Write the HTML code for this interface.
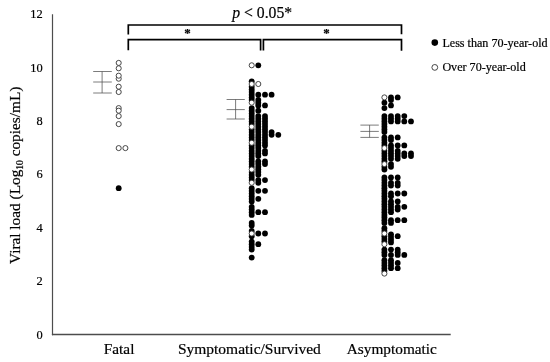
<!DOCTYPE html>
<html><head><meta charset="utf-8"><title>Viral load</title>
<style>
html,body{margin:0;padding:0;background:#fff;}
body{width:550px;height:362px;overflow:hidden;}
svg{display:block;}
text{font-family:"Liberation Serif","Times New Roman",serif;fill:#000;stroke:#000;stroke-width:0.2px;}
</style></head><body>
<svg width="550" height="362" viewBox="0 0 550 362">
<rect width="550" height="362" fill="#fff"/>
<g stroke="#4d4d4d" stroke-width="1.2" fill="none">
<line x1="52.5" y1="14.2" x2="52.5" y2="335.2"/>
<line x1="51.9" y1="334.5" x2="450.7" y2="334.5" stroke-width="1.4"/>
</g>
<g font-size="12.4"><text x="42.6" y="18.2" text-anchor="end">12</text><text x="42.6" y="71.6" text-anchor="end">10</text><text x="42.6" y="125.0" text-anchor="end">8</text><text x="42.6" y="178.4" text-anchor="end">6</text><text x="42.6" y="231.8" text-anchor="end">4</text><text x="42.6" y="285.2" text-anchor="end">2</text><text x="42.6" y="338.6" text-anchor="end">0</text></g>
<text font-size="15.32" transform="translate(20.3,264.0) rotate(-90)">Viral load (Log<tspan font-size="9.5" dy="2.5">10</tspan><tspan dy="-2.5"> copies/mL)</tspan></text>
<g font-size="15.3">
<text x="103.8" y="353.8">Fatal</text>
<text x="177.9" y="353.8" font-size="15.5">Symptomatic/Survived</text>
<text x="346.8" y="353.8">Asymptomatic</text>
<text x="232.3" y="17.6" font-size="15.7"><tspan font-style="italic">p</tspan> &lt; 0.05*</text>
</g>
<g stroke="#000" stroke-width="1.7" fill="none" stroke-linecap="butt">
<path d="M128.3 34.6V25H401.5V34.2"/>
<path d="M128.3 50.2V39.7H260.6V50.6"/>
<path d="M263.4 50.6V39.7H401.5V50.8"/>
</g>
<g font-size="13" font-weight="bold"><text x="187.4" y="36.9" text-anchor="middle">*</text><text x="326.4" y="37.2" text-anchor="middle">*</text></g>
<g>
<circle cx="434.8" cy="42.6" r="3.3" fill="#000"/>
<circle cx="434.8" cy="67.4" r="2.9" fill="#fff" stroke="#333" stroke-width="0.9"/>
<text x="442.4" y="46.6" font-size="12.1">Less than 70-year-old</text>
<text x="442.4" y="71.4" font-size="12.1">Over 70-year-old</text>
</g>
<g stroke="#505050" stroke-width="0.75">
<line x1="93.2" y1="71.5" x2="111.8" y2="71.5"/><line x1="93.2" y1="82" x2="111.8" y2="82"/><line x1="93.2" y1="93" x2="111.8" y2="93"/><line x1="102.1" y1="71.5" x2="102.1" y2="93"/>
<line x1="226.6" y1="99.5" x2="244.8" y2="99.5"/><line x1="226.6" y1="109.6" x2="244.8" y2="109.6"/><line x1="226.6" y1="119" x2="244.8" y2="119"/><line x1="235.6" y1="99.5" x2="235.6" y2="119"/>
<line x1="360.4" y1="125.1" x2="378.8" y2="125.1"/><line x1="360.4" y1="131.4" x2="378.8" y2="131.4"/><line x1="360.4" y1="137.4" x2="378.8" y2="137.4"/><line x1="369.6" y1="125.1" x2="369.6" y2="137.4"/>
</g>
<g><circle cx="118.7" cy="62.9" r="2.55" fill="#fff" stroke="#333" stroke-width="0.9"/><circle cx="118.7" cy="68.3" r="2.55" fill="#fff" stroke="#333" stroke-width="0.9"/><circle cx="118.7" cy="78.7" r="2.55" fill="#fff" stroke="#333" stroke-width="0.9"/><circle cx="118.7" cy="75.7" r="2.55" fill="#fff" stroke="#333" stroke-width="0.9"/><circle cx="118.7" cy="86.7" r="2.55" fill="#fff" stroke="#333" stroke-width="0.9"/><circle cx="118.7" cy="92.0" r="2.55" fill="#fff" stroke="#333" stroke-width="0.9"/><circle cx="118.7" cy="108.1" r="2.55" fill="#fff" stroke="#333" stroke-width="0.9"/><circle cx="118.7" cy="110.7" r="2.55" fill="#fff" stroke="#333" stroke-width="0.9"/><circle cx="118.7" cy="116.1" r="2.55" fill="#fff" stroke="#333" stroke-width="0.9"/><circle cx="118.7" cy="124.1" r="2.55" fill="#fff" stroke="#333" stroke-width="0.9"/><circle cx="118.7" cy="148.1" r="2.55" fill="#fff" stroke="#333" stroke-width="0.9"/><circle cx="125.4" cy="148.1" r="2.55" fill="#fff" stroke="#333" stroke-width="0.9"/><circle cx="118.7" cy="188.2" r="2.9" fill="#000"/></g>
<g><circle cx="251.7" cy="81.3" r="2.9" fill="#000"/><circle cx="251.7" cy="86.7" r="2.9" fill="#000"/><circle cx="251.7" cy="89.4" r="2.9" fill="#000"/><circle cx="251.7" cy="92.0" r="2.9" fill="#000"/><circle cx="251.7" cy="94.7" r="2.9" fill="#000"/><circle cx="251.7" cy="97.4" r="2.9" fill="#000"/><circle cx="251.7" cy="100.0" r="2.9" fill="#000"/><circle cx="251.7" cy="108.1" r="2.9" fill="#000"/><circle cx="251.7" cy="110.7" r="2.9" fill="#000"/><circle cx="251.7" cy="113.4" r="2.9" fill="#000"/><circle cx="251.7" cy="116.1" r="2.9" fill="#000"/><circle cx="251.7" cy="118.7" r="2.9" fill="#000"/><circle cx="251.7" cy="121.4" r="2.9" fill="#000"/><circle cx="251.7" cy="124.1" r="2.9" fill="#000"/><circle cx="251.7" cy="129.4" r="2.9" fill="#000"/><circle cx="251.7" cy="132.1" r="2.9" fill="#000"/><circle cx="251.7" cy="134.8" r="2.9" fill="#000"/><circle cx="251.7" cy="137.4" r="2.9" fill="#000"/><circle cx="251.7" cy="140.1" r="2.9" fill="#000"/><circle cx="251.7" cy="145.4" r="2.9" fill="#000"/><circle cx="251.7" cy="148.1" r="2.9" fill="#000"/><circle cx="251.7" cy="150.8" r="2.9" fill="#000"/><circle cx="251.7" cy="153.4" r="2.9" fill="#000"/><circle cx="251.7" cy="156.1" r="2.9" fill="#000"/><circle cx="251.7" cy="158.8" r="2.9" fill="#000"/><circle cx="251.7" cy="161.5" r="2.9" fill="#000"/><circle cx="251.7" cy="164.1" r="2.9" fill="#000"/><circle cx="251.7" cy="166.8" r="2.9" fill="#000"/><circle cx="251.7" cy="172.1" r="2.9" fill="#000"/><circle cx="251.7" cy="174.8" r="2.9" fill="#000"/><circle cx="251.7" cy="177.5" r="2.9" fill="#000"/><circle cx="251.7" cy="180.1" r="2.9" fill="#000"/><circle cx="251.7" cy="188.2" r="2.9" fill="#000"/><circle cx="251.7" cy="190.8" r="2.9" fill="#000"/><circle cx="251.7" cy="193.5" r="2.9" fill="#000"/><circle cx="251.7" cy="196.2" r="2.9" fill="#000"/><circle cx="251.7" cy="198.8" r="2.9" fill="#000"/><circle cx="251.7" cy="201.5" r="2.9" fill="#000"/><circle cx="251.7" cy="206.8" r="2.9" fill="#000"/><circle cx="251.7" cy="209.5" r="2.9" fill="#000"/><circle cx="251.7" cy="212.2" r="2.9" fill="#000"/><circle cx="251.7" cy="214.9" r="2.9" fill="#000"/><circle cx="251.7" cy="222.9" r="2.9" fill="#000"/><circle cx="251.7" cy="225.5" r="2.9" fill="#000"/><circle cx="251.7" cy="230.9" r="2.9" fill="#000"/><circle cx="251.7" cy="236.2" r="2.9" fill="#000"/><circle cx="251.7" cy="241.6" r="2.9" fill="#000"/><circle cx="251.7" cy="244.2" r="2.9" fill="#000"/><circle cx="251.7" cy="246.9" r="2.9" fill="#000"/><circle cx="251.7" cy="249.6" r="2.9" fill="#000"/><circle cx="251.7" cy="257.6" r="2.9" fill="#000"/><circle cx="258.3" cy="65.3" r="2.9" fill="#000"/><circle cx="258.3" cy="94.7" r="2.9" fill="#000"/><circle cx="258.3" cy="100.0" r="2.9" fill="#000"/><circle cx="258.3" cy="102.7" r="2.9" fill="#000"/><circle cx="258.3" cy="105.4" r="2.9" fill="#000"/><circle cx="258.3" cy="110.7" r="2.9" fill="#000"/><circle cx="258.3" cy="116.1" r="2.9" fill="#000"/><circle cx="258.3" cy="118.7" r="2.9" fill="#000"/><circle cx="258.3" cy="121.4" r="2.9" fill="#000"/><circle cx="258.3" cy="124.1" r="2.9" fill="#000"/><circle cx="258.3" cy="126.7" r="2.9" fill="#000"/><circle cx="258.3" cy="129.4" r="2.9" fill="#000"/><circle cx="258.3" cy="132.1" r="2.9" fill="#000"/><circle cx="258.3" cy="134.8" r="2.9" fill="#000"/><circle cx="258.3" cy="137.4" r="2.9" fill="#000"/><circle cx="258.3" cy="140.1" r="2.9" fill="#000"/><circle cx="258.3" cy="142.8" r="2.9" fill="#000"/><circle cx="258.3" cy="145.4" r="2.9" fill="#000"/><circle cx="258.3" cy="148.1" r="2.9" fill="#000"/><circle cx="258.3" cy="150.8" r="2.9" fill="#000"/><circle cx="258.3" cy="153.4" r="2.9" fill="#000"/><circle cx="258.3" cy="156.1" r="2.9" fill="#000"/><circle cx="258.3" cy="161.5" r="2.9" fill="#000"/><circle cx="258.3" cy="164.1" r="2.9" fill="#000"/><circle cx="258.3" cy="166.8" r="2.9" fill="#000"/><circle cx="258.3" cy="169.5" r="2.9" fill="#000"/><circle cx="258.3" cy="172.1" r="2.9" fill="#000"/><circle cx="258.3" cy="174.8" r="2.9" fill="#000"/><circle cx="258.3" cy="180.1" r="2.9" fill="#000"/><circle cx="258.3" cy="182.8" r="2.9" fill="#000"/><circle cx="258.3" cy="190.8" r="2.9" fill="#000"/><circle cx="258.3" cy="198.8" r="2.9" fill="#000"/><circle cx="258.3" cy="212.2" r="2.9" fill="#000"/><circle cx="258.3" cy="233.5" r="2.9" fill="#000"/><circle cx="258.3" cy="244.2" r="2.9" fill="#000"/><circle cx="265.0" cy="94.7" r="2.9" fill="#000"/><circle cx="265.0" cy="105.4" r="2.9" fill="#000"/><circle cx="265.0" cy="116.1" r="2.9" fill="#000"/><circle cx="265.0" cy="118.7" r="2.9" fill="#000"/><circle cx="265.0" cy="121.4" r="2.9" fill="#000"/><circle cx="265.0" cy="124.1" r="2.9" fill="#000"/><circle cx="265.0" cy="126.7" r="2.9" fill="#000"/><circle cx="265.0" cy="129.4" r="2.9" fill="#000"/><circle cx="265.0" cy="132.1" r="2.9" fill="#000"/><circle cx="265.0" cy="134.8" r="2.9" fill="#000"/><circle cx="265.0" cy="137.4" r="2.9" fill="#000"/><circle cx="265.0" cy="140.1" r="2.9" fill="#000"/><circle cx="265.0" cy="142.8" r="2.9" fill="#000"/><circle cx="265.0" cy="145.4" r="2.9" fill="#000"/><circle cx="265.0" cy="150.8" r="2.9" fill="#000"/><circle cx="265.0" cy="153.4" r="2.9" fill="#000"/><circle cx="265.0" cy="161.5" r="2.9" fill="#000"/><circle cx="265.0" cy="164.1" r="2.9" fill="#000"/><circle cx="265.0" cy="180.1" r="2.9" fill="#000"/><circle cx="265.0" cy="190.8" r="2.9" fill="#000"/><circle cx="265.0" cy="212.2" r="2.9" fill="#000"/><circle cx="265.0" cy="233.5" r="2.9" fill="#000"/><circle cx="271.6" cy="94.7" r="2.9" fill="#000"/><circle cx="271.6" cy="132.1" r="2.9" fill="#000"/><circle cx="271.6" cy="134.8" r="2.9" fill="#000"/><circle cx="278.3" cy="134.8" r="2.9" fill="#000"/><circle cx="251.7" cy="65.3" r="2.55" fill="#fff" stroke="#333" stroke-width="0.9"/><circle cx="251.7" cy="84.0" r="2.55" fill="#fff" stroke="#333" stroke-width="0.9"/><circle cx="251.7" cy="102.7" r="2.55" fill="#fff" stroke="#333" stroke-width="0.9"/><circle cx="251.7" cy="126.7" r="2.55" fill="#fff" stroke="#333" stroke-width="0.9"/><circle cx="251.7" cy="142.8" r="2.55" fill="#fff" stroke="#333" stroke-width="0.9"/><circle cx="251.7" cy="169.5" r="2.55" fill="#fff" stroke="#333" stroke-width="0.9"/><circle cx="251.7" cy="182.8" r="2.55" fill="#fff" stroke="#333" stroke-width="0.9"/><circle cx="251.7" cy="233.5" r="2.55" fill="#fff" stroke="#333" stroke-width="0.9"/><circle cx="258.3" cy="84.0" r="2.55" fill="#fff" stroke="#333" stroke-width="0.9"/></g>
<g><circle cx="384.4" cy="102.7" r="2.9" fill="#000"/><circle cx="384.4" cy="108.1" r="2.9" fill="#000"/><circle cx="384.4" cy="116.1" r="2.9" fill="#000"/><circle cx="384.4" cy="118.7" r="2.9" fill="#000"/><circle cx="384.4" cy="121.4" r="2.9" fill="#000"/><circle cx="384.4" cy="124.1" r="2.9" fill="#000"/><circle cx="384.4" cy="126.7" r="2.9" fill="#000"/><circle cx="384.4" cy="129.4" r="2.9" fill="#000"/><circle cx="384.4" cy="132.1" r="2.9" fill="#000"/><circle cx="384.4" cy="137.4" r="2.9" fill="#000"/><circle cx="384.4" cy="140.1" r="2.9" fill="#000"/><circle cx="384.4" cy="142.8" r="2.9" fill="#000"/><circle cx="384.4" cy="145.4" r="2.9" fill="#000"/><circle cx="384.4" cy="150.8" r="2.9" fill="#000"/><circle cx="384.4" cy="153.4" r="2.9" fill="#000"/><circle cx="384.4" cy="156.1" r="2.9" fill="#000"/><circle cx="384.4" cy="158.8" r="2.9" fill="#000"/><circle cx="384.4" cy="161.5" r="2.9" fill="#000"/><circle cx="384.4" cy="166.8" r="2.9" fill="#000"/><circle cx="384.4" cy="169.5" r="2.9" fill="#000"/><circle cx="384.4" cy="177.5" r="2.9" fill="#000"/><circle cx="384.4" cy="180.1" r="2.9" fill="#000"/><circle cx="384.4" cy="182.8" r="2.9" fill="#000"/><circle cx="384.4" cy="185.5" r="2.9" fill="#000"/><circle cx="384.4" cy="188.2" r="2.9" fill="#000"/><circle cx="384.4" cy="190.8" r="2.9" fill="#000"/><circle cx="384.4" cy="193.5" r="2.9" fill="#000"/><circle cx="384.4" cy="196.2" r="2.9" fill="#000"/><circle cx="384.4" cy="198.8" r="2.9" fill="#000"/><circle cx="384.4" cy="201.5" r="2.9" fill="#000"/><circle cx="384.4" cy="204.2" r="2.9" fill="#000"/><circle cx="384.4" cy="206.8" r="2.9" fill="#000"/><circle cx="384.4" cy="209.5" r="2.9" fill="#000"/><circle cx="384.4" cy="212.2" r="2.9" fill="#000"/><circle cx="384.4" cy="214.9" r="2.9" fill="#000"/><circle cx="384.4" cy="217.5" r="2.9" fill="#000"/><circle cx="384.4" cy="220.2" r="2.9" fill="#000"/><circle cx="384.4" cy="222.9" r="2.9" fill="#000"/><circle cx="384.4" cy="228.2" r="2.9" fill="#000"/><circle cx="384.4" cy="230.9" r="2.9" fill="#000"/><circle cx="384.4" cy="236.2" r="2.9" fill="#000"/><circle cx="384.4" cy="238.9" r="2.9" fill="#000"/><circle cx="384.4" cy="241.6" r="2.9" fill="#000"/><circle cx="384.4" cy="249.6" r="2.9" fill="#000"/><circle cx="384.4" cy="252.2" r="2.9" fill="#000"/><circle cx="384.4" cy="254.9" r="2.9" fill="#000"/><circle cx="384.4" cy="260.2" r="2.9" fill="#000"/><circle cx="384.4" cy="262.9" r="2.9" fill="#000"/><circle cx="384.4" cy="265.6" r="2.9" fill="#000"/><circle cx="384.4" cy="268.2" r="2.9" fill="#000"/><circle cx="384.4" cy="270.9" r="2.9" fill="#000"/><circle cx="391.0" cy="97.4" r="2.9" fill="#000"/><circle cx="391.0" cy="100.0" r="2.9" fill="#000"/><circle cx="391.0" cy="105.4" r="2.9" fill="#000"/><circle cx="391.0" cy="116.1" r="2.9" fill="#000"/><circle cx="391.0" cy="118.7" r="2.9" fill="#000"/><circle cx="391.0" cy="121.4" r="2.9" fill="#000"/><circle cx="391.0" cy="137.4" r="2.9" fill="#000"/><circle cx="391.0" cy="140.1" r="2.9" fill="#000"/><circle cx="391.0" cy="145.4" r="2.9" fill="#000"/><circle cx="391.0" cy="148.1" r="2.9" fill="#000"/><circle cx="391.0" cy="150.8" r="2.9" fill="#000"/><circle cx="391.0" cy="153.4" r="2.9" fill="#000"/><circle cx="391.0" cy="156.1" r="2.9" fill="#000"/><circle cx="391.0" cy="158.8" r="2.9" fill="#000"/><circle cx="391.0" cy="164.1" r="2.9" fill="#000"/><circle cx="391.0" cy="166.8" r="2.9" fill="#000"/><circle cx="391.0" cy="177.5" r="2.9" fill="#000"/><circle cx="391.0" cy="182.8" r="2.9" fill="#000"/><circle cx="391.0" cy="185.5" r="2.9" fill="#000"/><circle cx="391.0" cy="193.5" r="2.9" fill="#000"/><circle cx="391.0" cy="196.2" r="2.9" fill="#000"/><circle cx="391.0" cy="201.5" r="2.9" fill="#000"/><circle cx="391.0" cy="204.2" r="2.9" fill="#000"/><circle cx="391.0" cy="206.8" r="2.9" fill="#000"/><circle cx="391.0" cy="209.5" r="2.9" fill="#000"/><circle cx="391.0" cy="212.2" r="2.9" fill="#000"/><circle cx="391.0" cy="220.2" r="2.9" fill="#000"/><circle cx="391.0" cy="222.9" r="2.9" fill="#000"/><circle cx="391.0" cy="234.3" r="2.9" fill="#000"/><circle cx="391.0" cy="237.0" r="2.9" fill="#000"/><circle cx="391.0" cy="239.7" r="2.9" fill="#000"/><circle cx="391.0" cy="242.4" r="2.9" fill="#000"/><circle cx="391.0" cy="249.6" r="2.9" fill="#000"/><circle cx="391.0" cy="254.9" r="2.9" fill="#000"/><circle cx="391.0" cy="260.2" r="2.9" fill="#000"/><circle cx="391.0" cy="262.9" r="2.9" fill="#000"/><circle cx="391.0" cy="265.6" r="2.9" fill="#000"/><circle cx="391.0" cy="268.2" r="2.9" fill="#000"/><circle cx="397.7" cy="97.4" r="2.9" fill="#000"/><circle cx="397.7" cy="116.1" r="2.9" fill="#000"/><circle cx="397.7" cy="118.7" r="2.9" fill="#000"/><circle cx="397.7" cy="121.4" r="2.9" fill="#000"/><circle cx="397.7" cy="137.4" r="2.9" fill="#000"/><circle cx="397.7" cy="145.4" r="2.9" fill="#000"/><circle cx="397.7" cy="150.8" r="2.9" fill="#000"/><circle cx="397.7" cy="153.4" r="2.9" fill="#000"/><circle cx="397.7" cy="156.1" r="2.9" fill="#000"/><circle cx="397.7" cy="158.8" r="2.9" fill="#000"/><circle cx="397.7" cy="177.5" r="2.9" fill="#000"/><circle cx="397.7" cy="182.8" r="2.9" fill="#000"/><circle cx="397.7" cy="185.5" r="2.9" fill="#000"/><circle cx="397.7" cy="193.5" r="2.9" fill="#000"/><circle cx="397.7" cy="201.5" r="2.9" fill="#000"/><circle cx="397.7" cy="206.8" r="2.9" fill="#000"/><circle cx="397.7" cy="209.5" r="2.9" fill="#000"/><circle cx="397.7" cy="220.2" r="2.9" fill="#000"/><circle cx="397.7" cy="236.2" r="2.9" fill="#000"/><circle cx="397.7" cy="249.6" r="2.9" fill="#000"/><circle cx="397.7" cy="252.2" r="2.9" fill="#000"/><circle cx="397.7" cy="254.9" r="2.9" fill="#000"/><circle cx="397.7" cy="262.9" r="2.9" fill="#000"/><circle cx="397.7" cy="268.2" r="2.9" fill="#000"/><circle cx="404.3" cy="116.1" r="2.9" fill="#000"/><circle cx="404.3" cy="121.4" r="2.9" fill="#000"/><circle cx="404.3" cy="145.4" r="2.9" fill="#000"/><circle cx="404.3" cy="153.4" r="2.9" fill="#000"/><circle cx="404.3" cy="156.1" r="2.9" fill="#000"/><circle cx="404.3" cy="193.5" r="2.9" fill="#000"/><circle cx="404.3" cy="206.8" r="2.9" fill="#000"/><circle cx="404.3" cy="220.2" r="2.9" fill="#000"/><circle cx="404.3" cy="254.9" r="2.9" fill="#000"/><circle cx="411.0" cy="121.4" r="2.9" fill="#000"/><circle cx="411.0" cy="153.4" r="2.9" fill="#000"/><circle cx="411.0" cy="156.1" r="2.9" fill="#000"/><circle cx="384.4" cy="97.4" r="2.55" fill="#fff" stroke="#333" stroke-width="0.9"/><circle cx="384.4" cy="148.1" r="2.55" fill="#fff" stroke="#333" stroke-width="0.9"/><circle cx="384.4" cy="164.1" r="2.55" fill="#fff" stroke="#333" stroke-width="0.9"/><circle cx="384.4" cy="233.5" r="2.55" fill="#fff" stroke="#333" stroke-width="0.9"/><circle cx="384.4" cy="244.2" r="2.55" fill="#fff" stroke="#333" stroke-width="0.9"/><circle cx="384.4" cy="273.6" r="2.55" fill="#fff" stroke="#333" stroke-width="0.9"/></g>
</svg>
</body></html>
